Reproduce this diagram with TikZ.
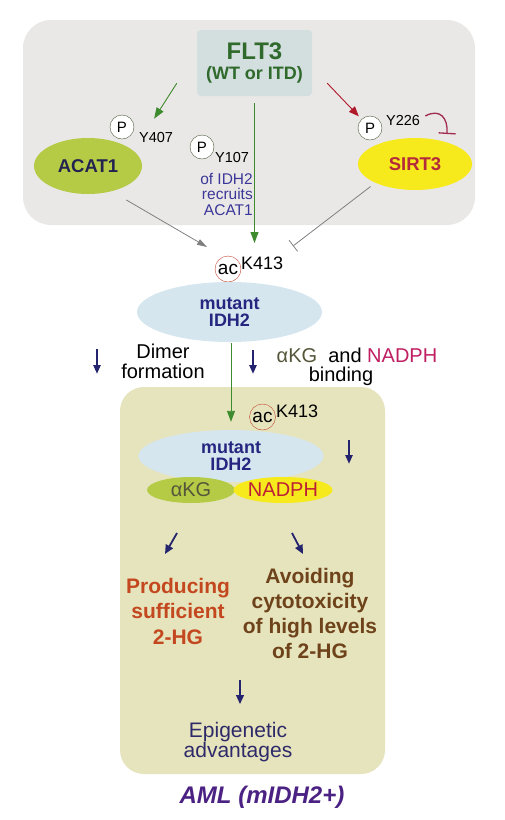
\documentclass[tikz,border=0pt]{standalone}
\usepackage{fontspec}
\setmainfont{Liberation Sans}
\usetikzlibrary{arrows.meta, shapes.geometric}

\definecolor{topgray}{HTML}{EAE8E6}
\definecolor{flbox}{HTML}{D3DEDF}
\definecolor{fltgreen}{HTML}{2F6A2C}
\definecolor{arrgreen}{HTML}{3E8A2E}
\definecolor{acatfill}{HTML}{B5CB46}
\definecolor{acattext}{HTML}{232350}
\definecolor{sirtfill}{HTML}{F6EA1C}
\definecolor{sirttext}{HTML}{B42A3A}
\definecolor{navy}{HTML}{24246E}
\definecolor{recruit}{HTML}{3B3799}
\definecolor{idhfill}{HTML}{D5E6EF}
\definecolor{idhtext}{HTML}{262680}
\definecolor{panel}{HTML}{E6E4BC}
\definecolor{accirc}{HTML}{C0452F}
\definecolor{pcirc}{HTML}{4A5A3A}
\definecolor{nadphmag}{HTML}{C01F62}
\definecolor{nadphred}{HTML}{BC2035}
\definecolor{akg}{HTML}{55553A}
\definecolor{prodcol}{HTML}{C4481F}
\definecolor{avoidcol}{HTML}{6E421A}
\definecolor{epicol}{HTML}{2E2A6A}
\definecolor{amlcol}{HTML}{4B2283}
\definecolor{redarr}{HTML}{B0182A}
\definecolor{inhred}{HTML}{A02C50}

\newcommand{\fs}[2]{\fontsize{#1}{#2}\selectfont}

\begin{document}
\begin{tikzpicture}[x=1pt, y=-1pt,
  phos/.style={circle, draw=pcirc, fill=white, inner sep=0pt, minimum size=24pt, font=\fs{15}{16}},
  acet/.style={circle, draw=accirc, inner sep=0pt, minimum size=26pt, font=\fs{19}{20}},
  site/.style={inner sep=0pt, font=\fs{14.5}{16}},
  prot/.style={ellipse, inner sep=0pt, font=\bfseries\fs{18.5}{20}},
  grarrow/.style={-{Triangle[length=11pt,width=8pt]}, arrgreen, line width=0.9pt},
  navyarr/.style={-{Triangle[length=9pt,width=7pt]}, navy, line width=2.5pt},
  diagarr/.style={-{Triangle[length=9pt,width=8pt]}, navy, line width=1.8pt},
]
\useasboundingbox (0,0) rectangle (504,820);
\fill[white] (0,0) rectangle (504,820);
% panels
\fill[topgray, rounded corners=28pt] (23,20) rectangle (475,225);
\fill[panel, rounded corners=24pt] (120,387) rectangle (385,774);

% FLT3
\node[fill=flbox, rounded corners=4pt, minimum width=115pt, minimum height=66pt, align=center,
  inner sep=0pt, text=fltgreen, font=\bfseries] (flt) at (254.5,63)
  {\fs{24}{24}FLT3\\[5pt]\fs{18}{18}(WT or ITD)};

% ACAT1 branch
\node[prot, fill=acatfill, text=acattext, minimum width=108pt, minimum height=56pt] (acat) at (88,166) {ACAT1};
\node[phos] (pacat) at (122,127) {P};
\node[site, anchor=west] (y407) at (139,138) {Y407};
\draw[grarrow] ([shift={(-20,-13)}]flt.south west) -- ([shift={(-2,-14)}]y407.north);

% IDH2 phospho site
\node[phos] (pidh) at (202,147) {P};
\node[site, anchor=west] (y107) at (215,158) {Y107};
\node[align=right, anchor=east, inner sep=0pt, text=recruit, font=\fs{15.5}{15.5}] (recr) at (253,194)
  {of IDH2\\recruits\\ACAT1};

% SIRT3 branch
\node[prot, fill=sirtfill, text=sirttext, minimum width=114pt, minimum height=52pt] (sirt) at (415,164) {SIRT3};
\node[phos] (psirt) at (370,128) {P};
\node[site, anchor=west] (y226) at (386,121) {Y226};
\draw[-{Triangle[length=10pt,width=8pt]}, redarr, line width=0.9pt, shorten >=4pt]
  ([shift={(15,-13)}]flt.south east) -- (psirt);
\coordinate (selfbar) at (447,134);
\draw[inhred, line width=1.3pt, -{Bar[width=17pt]}]
  ([shift={(5,-5)}]y226.east) .. controls (440,108) and (448,118) .. (selfbar);

% acetylation of mutant IDH2
\node[acet] (ac1) at (228,269) {ac};
\node[site, font=\fs{18}{18}, anchor=west] (k1) at (241,263) {K413};
\coordinate (flttip) at (254.5,243);
\coordinate (acattip) at (207,247);
\coordinate (sirtbar) at (293,246);
\draw[grarrow] ([shift={(0,7)}]flt.south) -- (flttip);
\draw[gray, line width=0.8pt, -{Triangle[length=10pt,width=6pt]}] ([shift={(0,14)}]acat.south east) -- (acattip);
\draw[gray, line width=0.8pt, -{Bar[width=14pt]}] ([shift={(-4,4)}]sirt.south west) -- (sirtbar);

\node[prot, fill=idhfill, text=idhtext, align=center, minimum width=185pt, minimum height=60pt,
  font=\bfseries\fs{18}{16.5}] (idh) at (229.5,312) {mutant\\IDH2};

% decreases
\coordinate (dn1a) at (97,349); \coordinate (dn1b) at (97,374);
\coordinate (dn2a) at (253,350); \coordinate (dn2b) at (253,374);
\coordinate (dn3a) at (349,440); \coordinate (dn3b) at (349,464);
\draw[navyarr] (dn1a) -- (dn1b);
\draw[navyarr] (dn2a) -- (dn2b);
\draw[navyarr] (dn3a) -- (dn3b);
\node[align=center, inner sep=0pt, font=\fs{20}{20}] (dimer) at (163,361) {Dimer\\formation};
\node[inner sep=0pt, font=\fs{20}{20}] (akgtxt) at (357,355)
  {{\color{akg}αKG}\ \ and {\color{nadphmag}NADPH}};
\node[inner sep=0pt, font=\fs{20}{20}] (bind) at (341,376.5) {binding};

% AML panel
\node[prot, fill=idhfill, text=idhtext, align=center, minimum width=185pt, minimum height=52pt,
  font=\bfseries\fs{18}{17}] (idh2) at (231,456) {mutant\\IDH2};
\node[ellipse, inner sep=0pt, fill=acatfill, text=akg, minimum width=88pt, minimum height=26pt,
  font=\fs{20}{20}] (akgel) at (191,490) {αKG};
\node[ellipse, inner sep=0pt, fill=sirtfill, text=nadphred, minimum width=90pt, minimum height=26pt,
  font=\fs{20}{20}] (nadel) at (283,490) {NADPH};
\draw[grarrow] ([shift={(1.5,1)}]idh.south) -- ([shift={(0,-8)}]idh2.north);
\node[acet] (ac2) at (262.5,417) {ac};
\node[site, font=\fs{18}{18}, anchor=west] (k2) at (276,411) {K413};

\coordinate (dgla) at (177,533); \coordinate (dglb) at (165,554);
\coordinate (dgra) at (292,533); \coordinate (dgrb) at (303,554);
\draw[diagarr] (dgla) -- (dglb);
\draw[diagarr] (dgra) -- (dgrb);

\node[align=center, inner sep=0pt, text=prodcol, font=\bfseries\fs{21}{25.5}] (prod) at (178,611)
  {Producing\\sufficient\\2-HG};
\node[align=center, inner sep=0pt, text=avoidcol, font=\bfseries\fs{21}{25}] (avoid) at (310,613)
  {Avoiding\\cytotoxicity\\of high levels\\of 2-HG};

\coordinate (epia) at (240,680); \coordinate (epib) at (240,704);
\draw[-{Triangle[length=9pt,width=8pt]}, navy, line width=1.3pt] (epia) -- (epib);
\node[align=center, inner sep=0pt, text=epicol, font=\fs{21}{20}] (epi) at (238,742)
  {Epigenetic\\advantages};

\node[inner sep=0pt, text=amlcol, font=\bfseries\itshape\fs{24}{24}] (aml) at (262,797) {AML (mIDH2+)};
\end{tikzpicture}
\end{document}
